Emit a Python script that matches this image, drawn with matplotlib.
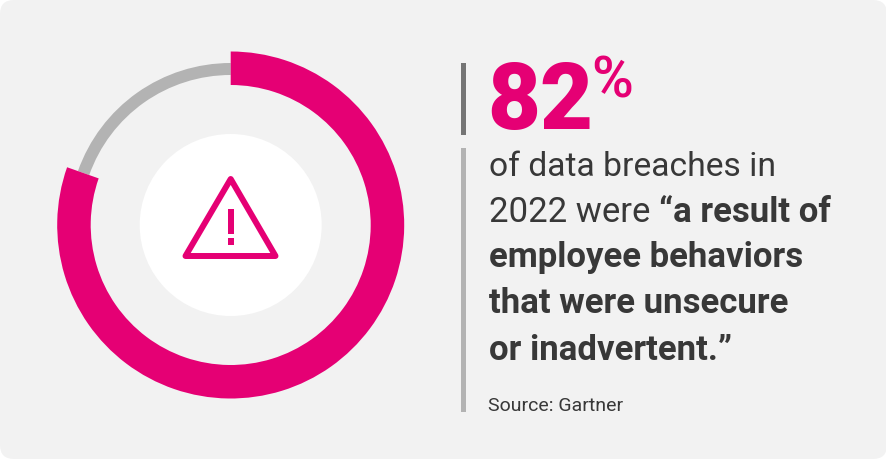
import matplotlib
matplotlib.use("Agg")
import matplotlib.pyplot as plt
from matplotlib.patches import Circle, FancyBboxPatch, Polygon, Rectangle

W, H = 887, 459
PINK = "#e50074"
GREY = "#b3b3b3"
DARK = "#383838"

# ring shares
shares = [80.4, 19.6]
headline = "82"
percent = "%"
lines = [
    [("of data breaches in", "normal", 24.2)],
    [("2022 were ", "normal", 25), ("\u201ca result of", "bold", 25)],
    [("employee behaviors", "bold", 25)],
    [("that were unsecure", "bold", 25)],
    [("or inadvertent.\u201d", "bold", 25)],
]
baselines = [176, 222, 267, 313, 360]
source = "Source: Gartner"

plt.rcParams["font.family"] = ["Roboto", "DejaVu Sans"]

fig = plt.figure(figsize=(W / 100, H / 100), dpi=100, facecolor="white")
ax = fig.add_axes([0, 0, 1, 1])


def yy(y):
    return H - y


# background card
ax.add_patch(FancyBboxPatch((14, 14), W - 28, H - 28, boxstyle="round,pad=14,rounding_size=14",
                            fc="#f2f2f2", ec="none"))

# ring: grey thin one under the thick pink part
cx, cy = 230.7, yy(225)
ax.pie([shares[1], shares[0]], startangle=90 + 360 * shares[0] / 100 * -1, counterclock=False,
       colors=[GREY, "none"], radius=162, center=(cx, cy), frame=True,
       wedgeprops=dict(width=12, linewidth=0))
ax.pie(shares, startangle=90, counterclock=False, colors=[PINK, "none"], radius=173.5,
       center=(cx, cy), frame=True, wedgeprops=dict(width=33.5, linewidth=0))

ax.add_patch(Circle((cx, cy), 91, fc="white", ec="none"))

# warning icon
ax.add_patch(Polygon([(cx, yy(179)), (275.5, yy(256)), (185.5, yy(256))], closed=True, fc="none",
                     ec=PINK, lw=4.3, joinstyle="round"))
ax.add_patch(Rectangle((228, yy(233.5)), 5.6, 24.5, fc=PINK, ec="none"))
ax.add_patch(Rectangle((228, yy(244.7)), 5.6, 7, fc=PINK, ec="none"))

# divider bars
ax.add_patch(Rectangle((461.5, yy(135)), 4.5, 72, fc="#757575", ec="none"))
ax.add_patch(Rectangle((461.5, yy(412)), 4.5, 264, fc=GREY, ec="none"))

# big number
ax.text(487, yy(129), headline, fontsize=66, fontweight="black", color=PINK, va="baseline", ha="left")
ax.text(591, yy(97), percent, fontsize=41, fontweight="medium", color=PINK, va="baseline", ha="left")

# quote text, bold and light runs on one line
fig.canvas.draw()
rend = fig.canvas.get_renderer()
for runs, base in zip(lines, baselines):
    x = 489
    for txt, weight, size in runs:
        t = ax.text(x, yy(base), txt, fontsize=size, fontweight=weight, color=DARK, va="baseline", ha="left")
        x += t.get_window_extent(rend).width

ax.text(488, yy(411), source, fontsize=14, color=DARK, va="baseline", ha="left")

ax.set_xlim(0, W)
ax.set_ylim(0, H)
ax.set_aspect("auto")
ax.axis("off")

fig.savefig("out.png", dpi=100, facecolor="white")
